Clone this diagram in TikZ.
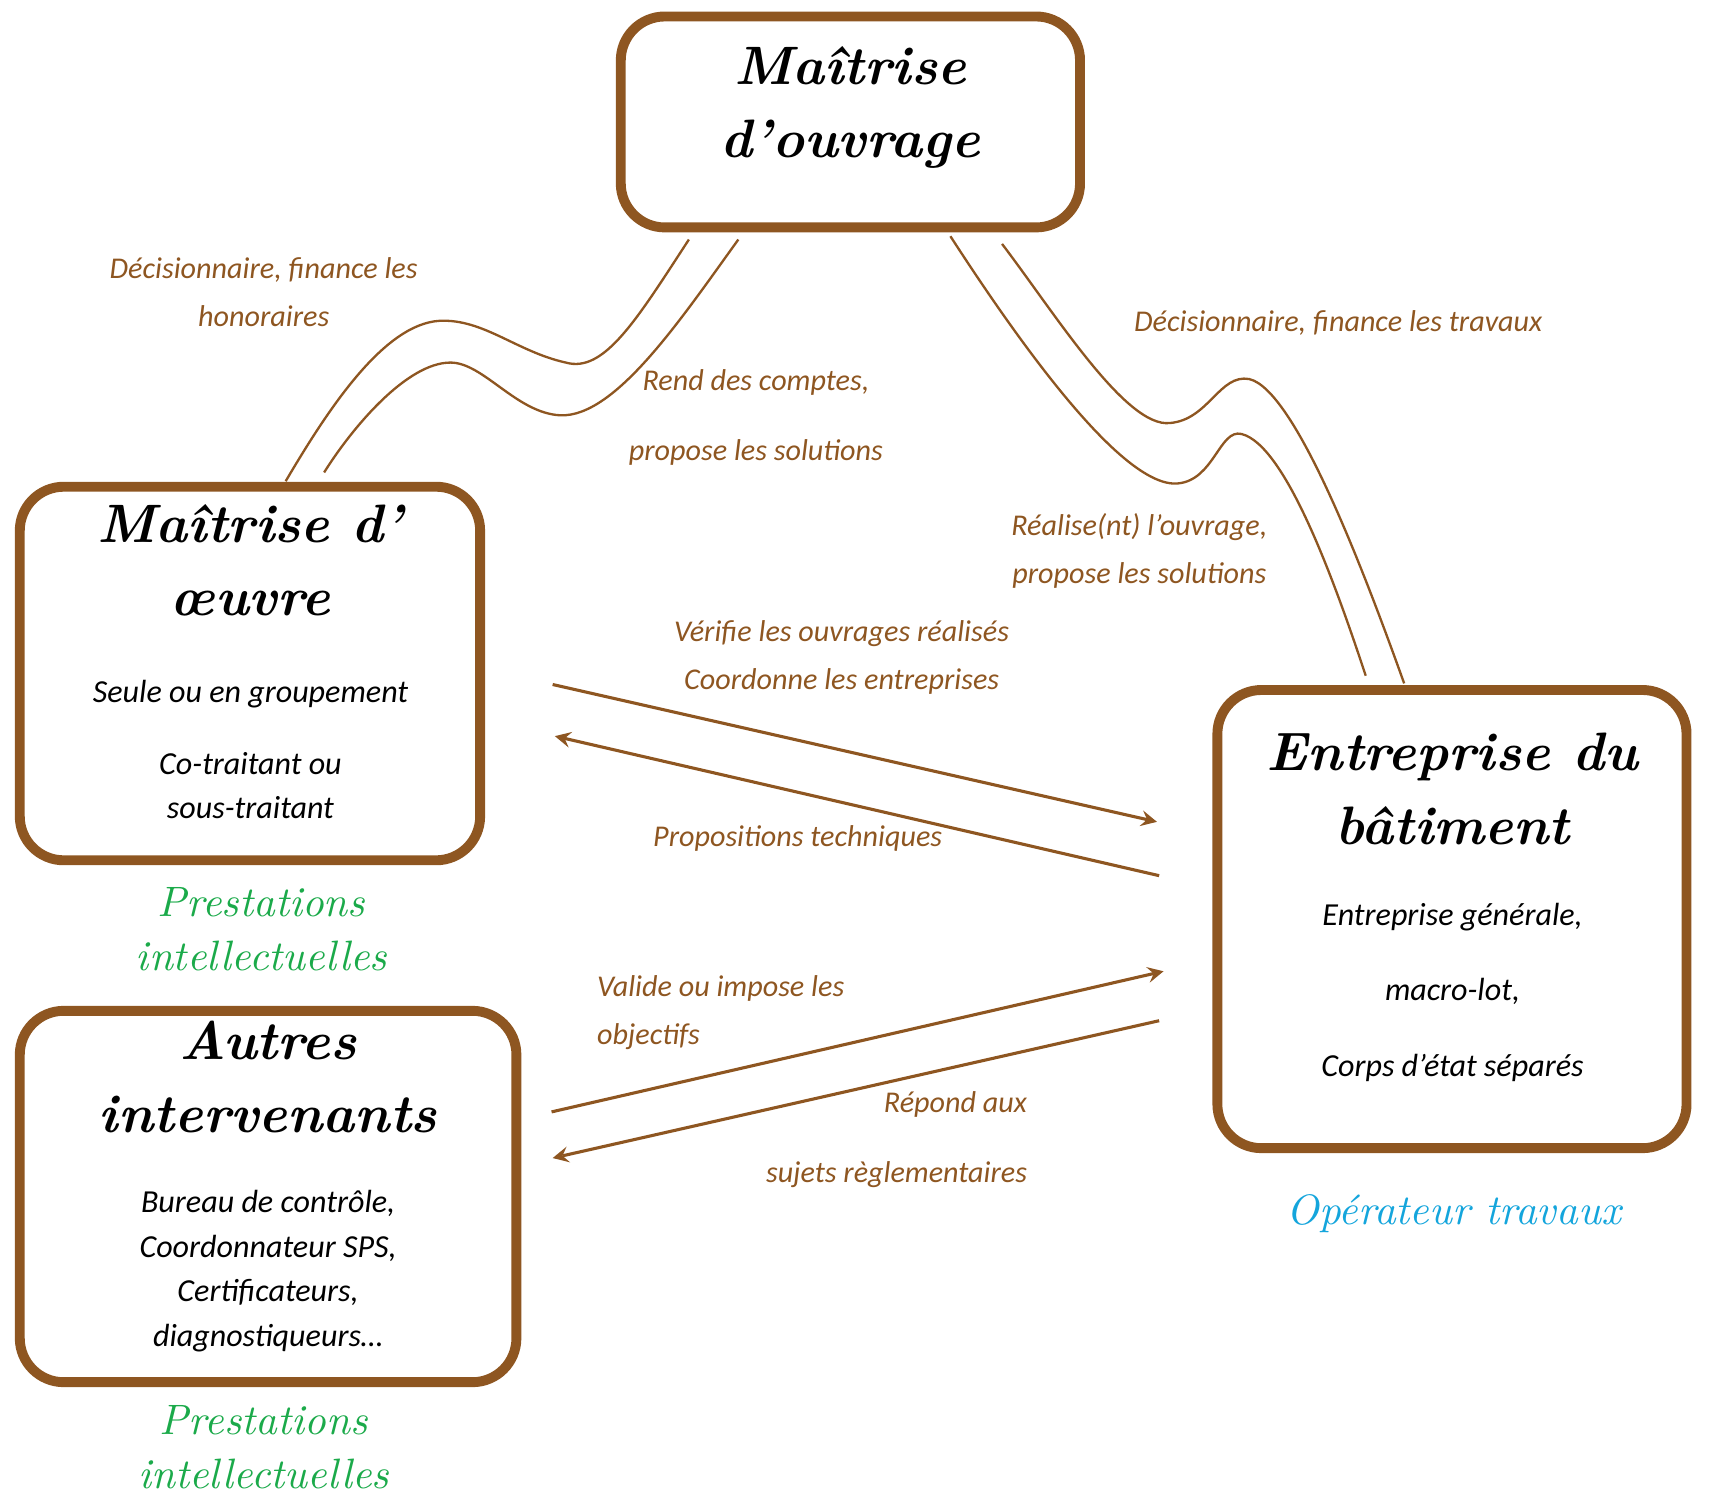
\documentclass[tikz,border=0pt]{standalone}
\usepackage{fontspec}
\setmainfont{Carlito}
\newfontfamily\ttl{Latin Modern Roman}
\begin{document}
\begin{tikzpicture}[x=0.01cm,y=-0.01cm,
 box/.style={draw=bx,line width=0.09cm,rounded corners=0.4cm},
 ttxt/.style={font=\ttl\itshape\bfseries\fontsize{14}{19}\selectfont,align=center},
 btxt/.style={font=\itshape\fontsize{8.3}{11.5}\selectfont,align=center},
 lbl/.style={font=\itshape\fontsize{7.8}{11}\selectfont,text=lb,align=center},
 grn/.style={font=\ttl\itshape\fontsize{11}{14}\selectfont,text=gr,align=center},
 wav/.style={draw=lb,line width=0.6pt},
 arr/.style={draw=lb,line width=0.8pt,-stealth}]
\definecolor{bx}{HTML}{8E5621}
\definecolor{lb}{HTML}{8E5621}
\definecolor{gr}{HTML}{1BAA4A}
\definecolor{bl}{HTML}{14A5DC}
\useasboundingbox (0,0) rectangle (1560,1367);
\path[box] (565,15) rectangle (983,207);
\path[box] (18,443) rectangle (437,783);
\path[box] (18,920) rectangle (470,1258);
\path[box] (1108,628) rectangle (1535,1045);
\node[ttxt] (mo) at (774,98) {Maîtrise\\d’ouvrage};
\node[ttxt] (moe) at (228,510) {Maîtrise d’\\œuvre};
\node[btxt] (moet) at (228,682) {Seule ou en groupement\\[0.25cm]Co-traitant ou\\sous-traitant};
\node[ttxt] (ai) at (244,980) {Autres\\intervenants};
\node[btxt] (ait) at (244,1157) {Bureau de contrôle,\\Coordonnateur SPS,\\Certificateurs,\\diagnostiqueurs\dots};
\node[ttxt] (eb) at (1322,718) {Entreprise du\\bâtiment};
\node[btxt,font=\itshape\fontsize{8.3}{19.5}\selectfont] (ebt) at (1322,903) {Entreprise générale,\\macro-lot,\\Corps d’état séparés};
\node[grn] (g1) at (238,846) {Prestations\\intellectuelles};
\node[grn] (g2) at (240,1317) {Prestations\\intellectuelles};
\node[grn,text=bl] (op) at (1323,1105) {Opérateur travaux};
\coordinate (a1) at (627,218); \coordinate (a2) at (260,438);
\coordinate (b1) at (672,218); \coordinate (b2) at (295,430);
\coordinate (c1) at (865,215); \coordinate (c2) at (1243,615);
\coordinate (d1) at (912,222); \coordinate (d2) at (1278,622);
\path[wav] (a1) .. controls (580,290) and (550,340) .. (515,330) .. controls (470,320) and (440,290) .. (400,292) .. controls (350,295) and (300,370) .. (a2);
\path[wav] (b1) .. controls (620,290) and (560,380) .. (510,378) .. controls (470,376) and (440,330) .. (410,330) .. controls (370,330) and (320,390) .. (b2);
\path[wav] (c1) .. controls (920,300) and (1020,445) .. (1072,440) .. controls (1105,437) and (1110,390) .. (1130,395) .. controls (1170,405) and (1215,530) .. (c2);
\path[wav] (d1) .. controls (960,285) and (1025,390) .. (1065,385) .. controls (1100,382) and (1110,340) .. (1137,345) .. controls (1180,355) and (1245,530) .. (d2);
\coordinate (p1) at (503,623); \coordinate (p2) at (1053,748);
\coordinate (q1) at (1055,797); \coordinate (q2) at (505,670);
\coordinate (r1) at (502,1012); \coordinate (r2) at (1059,884);
\coordinate (s1) at (1055,929); \coordinate (s2) at (503,1054);
\draw[arr] (p1) -- (p2);
\draw[arr] (q1) -- (q2);
\draw[arr] (r1) -- (r2);
\draw[arr] (s1) -- (s2);
\node[lbl] (l1) at (240,266) {Décisionnaire, finance les\\[0.05cm]honoraires};
\node[lbl] (l2) at (688,380) {Rend des comptes,\\[0.25cm]propose les solutions};
\node[lbl] (l3) at (1218,294) {Décisionnaire, finance les travaux};
\node[lbl] (l4) at (1037,501) {Réalise(nt) l’ouvrage,\\[0.05cm]propose les solutions};
\node[lbl] (l5) at (766,598) {Vérifie les ouvrages réalisés\\[0.05cm]Coordonne les entreprises};
\node[lbl] (l6) at (726,763) {Propositions techniques};
\node[lbl,align=left] (l7) at (656,922) {Valide ou impose les\\[0.05cm]objectifs};
\node[lbl,align=right] (l8) at (816,1037) {Répond aux\\[0.25cm]sujets règlementaires};
\end{tikzpicture}
\end{document}
